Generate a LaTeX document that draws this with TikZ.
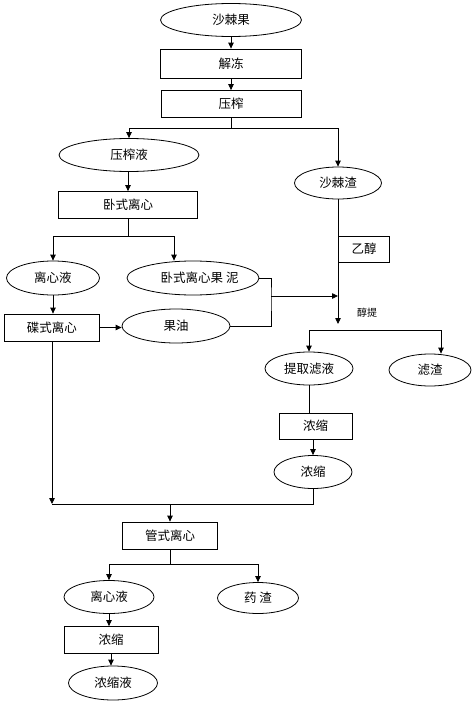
\documentclass[tikz,border=0pt]{standalone}
\usepackage{fontspec}
\newfontfamily\cjk{Noto Sans CJK SC}
\usepackage{tikz}
\usetikzlibrary{positioning}
\usetikzlibrary{shapes.geometric,arrows.meta,calc}

\begin{document}
\begin{tikzpicture}[x=1pt, y=-1pt, >={Triangle[length=6pt,width=5.5pt]}, line width=0.8pt,
  every node/.style={font=\cjk\fontsize{12.5}{14}\selectfont, inner sep=0pt},
  proc/.style={draw, rectangle},
  prod/.style={draw, ellipse}]
  \useasboundingbox (0,0) rectangle (474,704);

  % main line
  \node[prod, minimum width=141, minimum height=33] (guo) at (231,20) {沙棘果};
  \node[proc, minimum width=141, minimum height=29] (jiedong) at (231,63.5) {解冻};
  \node[proc, minimum width=140, minimum height=27] (yazha) at (231,104) {压榨};

  % left branch
  \node[prod, minimum width=140, minimum height=33] (yzy) at (129,155) {压榨液};
  \node[proc, minimum width=139, minimum height=27] (woshi) at (128,205) {卧式离心};
  \node[prod, minimum width=93, minimum height=34] (lxy) at (53,278) {离心液};
  \node[prod, minimum width=132, minimum height=34] (guoni) at (193,278) {\hspace{13pt}卧式离心果\hspace{3pt}泥};
  \node[proc, minimum width=95, minimum height=27] (dieshi) at (52,327.5) {碟式离心};
  \node[prod, minimum width=108, minimum height=34] (guoyou) at (176,326) {果油};

  % right branch
  \node[prod, minimum width=87, minimum height=32] (zha) at (338,183) {沙棘渣};
  \node[proc, minimum width=51, minimum height=26] (yichun) at (364,249) {乙醇};
  \node[font=\cjk\fontsize{10}{12}\selectfont] (chunti) at (367,313) {醇提};
  \node[prod, minimum width=88, minimum height=33] (tqly) at (309,368.5) {提取滤液};
  \node[prod, minimum width=82, minimum height=32] (lvzha) at (430,370) {滤渣};
  \node[proc, minimum width=73, minimum height=26] (nsbox) at (315.5,426) {浓缩};
  \node[prod, minimum width=78, minimum height=33] (nsell) at (313,472) {浓缩};

  % bottom
  \node[proc, minimum width=95, minimum height=27] (guanshi) at (170,535.5) {管式离心};
  \node[prod, minimum width=90, minimum height=33] (lxy2) at (109,597) {离心液};
  \node[prod, minimum width=81, minimum height=31] (yaozha) at (258,598) {药\ 渣};
  \node[proc, minimum width=94, minimum height=27] (ns2) at (111,640) {浓缩};
  \node[prod, minimum width=89, minimum height=34] (nsy) at (113,683) {浓缩液};

  \coordinate (b1) at (231,128);
  \coordinate (b2) at (128,236);
  \coordinate (j) at (271,296);
  \coordinate (c1) at (338,324);
  \coordinate (b3) at (338,330);
  \coordinate (b4) at (170,504);
  \coordinate (b5) at (170,564);

  \draw[->] (guo.south) -- (jiedong.north);
  \draw[->] (jiedong.south) -- (yazha.north);
  \draw (yazha.south) -- (b1);
  \draw[->] (b1) -| (yzy.north);
  \draw[->] (b1) -| (zha.north);

  \draw[->] (yzy.south -| woshi) -- (woshi.north);
  \draw (woshi.south) -- (b2);
  \draw[->] (b2) -| (lxy.north);
  \draw[->] (b2) -| ([xshift=-19]guoni.north);
  \draw[->] (lxy.south) -- (lxy.south |- dieshi.north);
  \draw[->] (dieshi.east) -- (dieshi.east -| guoyou.west);
  \draw (guoni.east) -| (j) |- (guoyou.east);
  \draw[->] (j) -- (j -| zha.south);

  \draw[->] (zha.south) -- (c1);
  \draw[->] (b3) -| (tqly.north);
  \draw[->] (b3) -| ([xshift=11]lvzha.north);
  \draw (tqly.south) -- (tqly.south |- nsbox.north);
  \draw[->] (nsbox.south -| nsell) -- (nsell.north);
  \draw (nsell.south) |- (dieshi.south |- b4);
  \draw[->] (dieshi.south) -- (dieshi.south |- b4);
  \draw[->] (b4) -- (guanshi.north);

  \draw (guanshi.south) -- (b5);
  \draw[->] (b5) -| (lxy2.north);
  \draw[->] (b5) -| (yaozha.north);
  \draw[->] (lxy2.south) -- (lxy2.south |- ns2.north);
  \draw[->] (ns2.south) -- (ns2.south |- nsy.north);
\end{tikzpicture}
\end{document}
